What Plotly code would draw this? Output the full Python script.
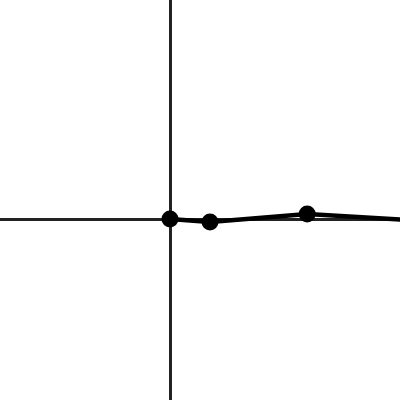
import plotly.graph_objects as go

# values (1 unit = 40 px)
xs = [0, 1, 3.43, 7]
ys = [0, -0.075, 0.125, -0.09]
show_marker = [True, True, True, False]

fig = go.Figure()
fig.add_trace(go.Scatter(
    x=xs, y=ys, mode="lines+markers",
    line=dict(color="black", width=4.5),
    marker=dict(color="black", opacity=1, line=dict(width=0),
                size=[17 if m else 0 for m in show_marker]),
    cliponaxis=False,
))

fig.update_xaxes(range=[-4.25, 5.75], showgrid=False, showticklabels=False,
                 zeroline=True, zerolinecolor="#222", zerolinewidth=2.5)
fig.update_yaxes(range=[-4.525, 5.475], showgrid=False, showticklabels=False,
                 zeroline=True, zerolinecolor="#222", zerolinewidth=2.5)
fig.update_layout(width=400, height=400, margin=dict(l=0, r=0, t=0, b=0),
                  paper_bgcolor="white", plot_bgcolor="white", showlegend=False)

fig.write_html("out.html", config={"displayModeBar": False},
               post_script="document.body.style.margin='0';")
